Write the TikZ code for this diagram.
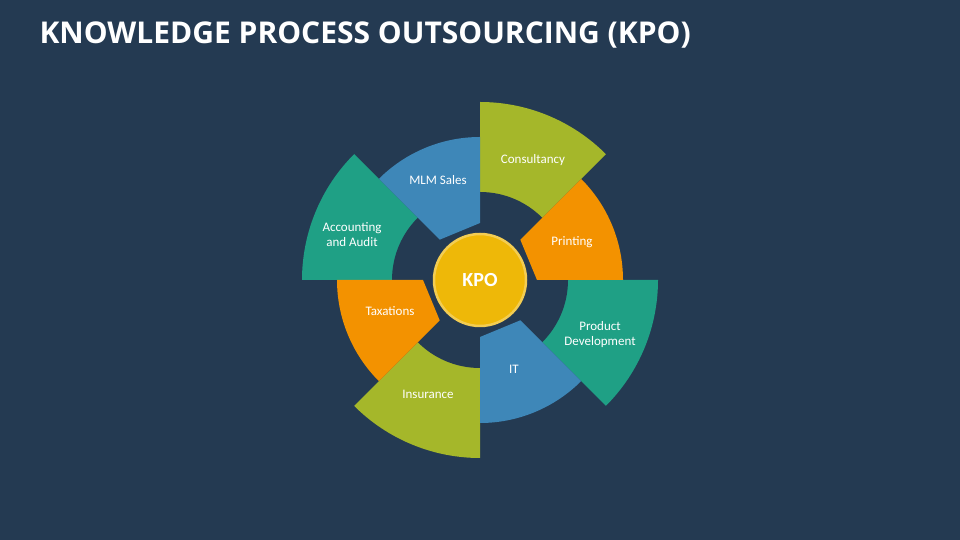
\documentclass[tikz,border=0pt]{standalone}
\usepackage{fontspec}
\usetikzlibrary{calc}
\setmainfont{Carlito}
\newfontfamily\titlefont{Open Sans}
\definecolor{bgblue}{HTML}{243A52}
\definecolor{olive}{HTML}{A5B72A}
\definecolor{orng}{HTML}{F39200}
\definecolor{teal}{HTML}{1FA085}
\definecolor{steel}{HTML}{3E87B8}
\definecolor{gold}{HTML}{EEB808}
\tikzset{
  LabelStyle/.style = {text = white, font = \fontsize{13}{15}\selectfont,
                       align = center},
  BigSector/.style = {draw = none},
  SmallSector/.style = {draw = none} }

\begin{document}
\begin{tikzpicture}[x=1pt,y=1pt]
  \fill[bgblue] (0,0) rectangle (960,540);
  \useasboundingbox (0,0) rectangle (960,540);
  \node[anchor=west, text=white, font=\titlefont\bfseries\fontsize{30}{34}\selectfont]
    (title) at (36,505) {KNOWLEDGE PROCESS OUTSOURCING (KPO)};
  \coordinate (c) at (480,260);

  % large sectors
  \foreach \a/\col in {45/olive, -45/teal, -135/olive, 135/teal}
    \fill[BigSector, \col] (c) -- ++(\a:178) arc[start angle=\a, end angle=\a+45, radius=178] -- cycle;
  \fill[bgblue] (c) circle[radius=88];

  % small sectors
  \foreach \a/\col in {0/orng, -90/steel, 180/orng, 90/steel}
    \fill[SmallSector, \col] ($(c)+(\a:57)$) -- ($(c)+(\a:143)$)
      arc[start angle=\a, end angle=\a+45, radius=143] -- ($(c)+(\a+45:57)$) -- cycle;

  % centre
  \node[circle, minimum size=92pt, fill=gold, draw=gold!70!white, line width=2.5pt,
        text=white, font=\bfseries\fontsize{20}{24}\selectfont] (kpo) at (c) {KPO};

  \node[LabelStyle] (cons) at (533,380) {Consultancy};
  \node[LabelStyle] (print) at (572,298) {Printing};
  \node[LabelStyle] (prod) at (600,205) {Product\\Development};
  \node[LabelStyle] (it) at (514,171) {IT};
  \node[LabelStyle] (ins) at (428,146) {Insurance};
  \node[LabelStyle] (tax) at (390,229) {Taxations};
  \node[LabelStyle] (acc) at (352,305) {Accounting\\and Audit};
  \node[LabelStyle] (mlm) at (438,360) {MLM Sales};
\end{tikzpicture}
\end{document}
